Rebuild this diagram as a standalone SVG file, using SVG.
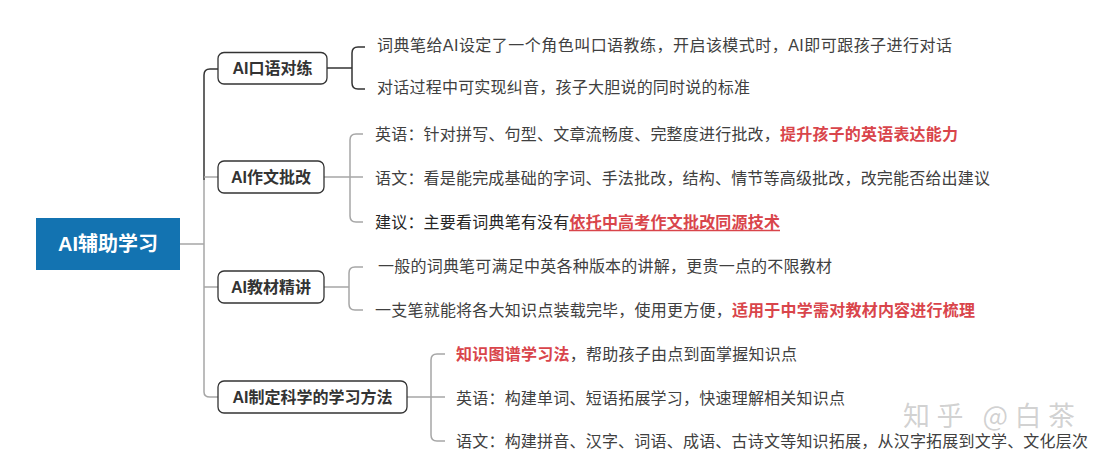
<svg xmlns="http://www.w3.org/2000/svg" width="1107" height="469" viewBox="0 0 1107 469">
<style>
.t{font-family:"Liberation Sans","Noto Sans CJK SC",sans-serif;font-size:16px;fill:#404040}
.r{fill:#d9454b;font-weight:bold}
.nb{fill:#fff;stroke:#333;stroke-width:1.3}
.nt{font-family:"Liberation Sans","Noto Sans CJK SC",sans-serif;font-size:16px;font-weight:bold;fill:#333;text-anchor:middle}
.dk{fill:none;stroke:#333;stroke-width:1.5}
.gr{fill:none;stroke:#a6a6a6;stroke-width:1.5}
</style>
<rect width="1107" height="469" fill="#fff"/>
<g id="connectors">
<path class="gr" d="M180 244H204"/>
<path class="dk" d="M204 180V75Q204 69 210 69H218"/>
<path class="gr" d="M204 180V392Q204 397 210 397H218"/>
<path class="gr" d="M204 177Q204 177 210 177H218"/>
<path class="gr" d="M204 287Q204 287 210 287H218"/>
<path class="dk" d="M327 68H352"/>
<path class="dk" d="M365 47H358Q352 47 352 53V83Q352 89 358 89H365"/>
<path class="gr" d="M324 177H363"/>
<path class="gr" d="M363 134H356Q350 134 350 140V216Q350 222 356 222H363"/>
<path class="gr" d="M324 287H349"/>
<path class="gr" d="M363 267H355Q349 267 349 273V304Q349 310 355 310H363"/>
<path class="gr" d="M407 397H445"/>
<path class="gr" d="M445 354H437Q431 354 431 360V435Q431 441 437 441H445"/>
</g>
<g id="root">
<rect x="36" y="218" width="144" height="52" fill="#1373b1"/>
<text x="108" y="251" font-family="'Liberation Sans','Noto Sans CJK SC',sans-serif" font-size="20" font-weight="bold" fill="#fff" text-anchor="middle">AI辅助学习</text>
</g>
<g id="n1">
<rect class="nb" x="218" y="52.5" width="109" height="31.5" rx="6"/>
<text class="nt" x="272.5" y="74">AI口语对练</text>
</g>
<g id="n2">
<rect class="nb" x="218" y="161" width="106" height="32" rx="6"/>
<text class="nt" x="271" y="183">AI作文批改</text>
</g>
<g id="n3">
<rect class="nb" x="218" y="271" width="106" height="32" rx="6"/>
<text class="nt" x="271" y="293">AI教材精讲</text>
</g>
<g id="n4">
<rect class="nb" x="218" y="381" width="189" height="32" rx="6"/>
<text class="nt" x="312.5" y="403">AI制定科学的学习方法</text>
</g>
<g id="n1-children">
<text class="t" x="377" y="51" textLength="575">词典笔给AI设定了一个角色叫口语教练，开启该模式时，AI即可跟孩子进行对话</text>
<text class="t" x="377" y="93" textLength="373">对话过程中可实现纠音，孩子大胆说的同时说的标准</text>
</g>
<g id="n2-children">
<text class="t" x="375" y="140" textLength="583">英语：针对拼写、句型、文章流畅度、完整度进行批改，<tspan class="r">提升孩子的英语表达能力</tspan></text>
<text class="t" x="375" y="184" textLength="615">语文：看是能完成基础的字词、手法批改，结构、情节等高级批改，改完能否给出建议</text>
<text class="t" x="375" y="228" textLength="405" style="fill:#262626">建议：主要看词典笔有没有<tspan class="r">依托中高考作文批改同源技术</tspan></text>
<line x1="569" y1="230.5" x2="780" y2="230.5" stroke="#d9454b" stroke-width="1.3"/>
</g>
<g id="n3-children">
<text class="t" x="378" y="272" textLength="454">一般的词典笔可满足中英各种版本的讲解，更贵一点的不限教材</text>
<text class="t" x="375" y="316" textLength="600">一支笔就能将各大知识点装载完毕，使用更方便，<tspan class="r">适用于中学需对教材内容进行梳理</tspan></text>
</g>
<g id="n4-children">
<text class="t" x="456" y="360" textLength="341"><tspan class="r">知识图谱学习法</tspan>，帮助孩子由点到面掌握知识点</text>
<text class="t" x="456" y="404" textLength="389">英语：构建单词、短语拓展学习，快速理解相关知识点</text>
<text class="t" x="456" y="447" textLength="632">语文：构建拼音、汉字、词语、成语、古诗文等知识拓展，从汉字拓展到文学、文化层次</text>
</g>
<text x="903" y="426" font-family="'Noto Sans CJK SC',sans-serif" font-size="27" fill="#9a9a9a" fill-opacity="0.45" textLength="172">知乎 @白茶</text>
</svg>
